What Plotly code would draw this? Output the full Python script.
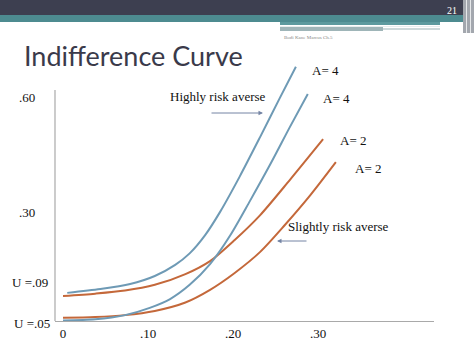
import plotly.graph_objects as go

# ---- Data (x = sigma, y = expected return) ----
sigma_a4_u09 = [0.005, 0.044, 0.079, 0.108, 0.132, 0.149, 0.167, 0.185, 0.208, 0.232, 0.255, 0.274]
er_a4_u09    = [0.089, 0.099, 0.112, 0.133, 0.162, 0.192, 0.239, 0.301, 0.393, 0.496, 0.597, 0.679]

sigma_a4_u05 = [0.000, 0.038, 0.073, 0.102, 0.126, 0.149, 0.173, 0.197, 0.220, 0.244, 0.267, 0.288]
er_a4_u05    = [0.017, 0.020, 0.031, 0.050, 0.073, 0.110, 0.164, 0.240, 0.329, 0.425, 0.522, 0.608]

sigma_a2_u09 = [0.000, 0.038, 0.073, 0.108, 0.144, 0.173, 0.202, 0.232, 0.267, 0.306]
er_a2_u09    = [0.081, 0.087, 0.095, 0.110, 0.138, 0.172, 0.227, 0.292, 0.384, 0.490]

sigma_a2_u05 = [0.000, 0.038, 0.073, 0.108, 0.144, 0.173, 0.202, 0.232, 0.261, 0.291, 0.321]
er_a2_u05    = [0.024, 0.026, 0.031, 0.042, 0.064, 0.097, 0.141, 0.196, 0.266, 0.344, 0.430]

x_tick_vals = [0, 0.10, 0.20, 0.30]
x_tick_text = ["0", ".10", ".20", ".30"]
y_label_text = [".60", ".30", "U =.09", "U =.05"]
curve_labels = ["A= 4", "A= 4", "A= 2", "A= 2"]

# ---- Layout geometry ----
W, H = 474, 355
L, R, T, B = 55, 40, 60, 34
PW, PH = W - L - R, H - T - B

def px(x):
    return (x - L) / PW

def py(y):
    return (H - B - y) / PH

X0, XS = 63, 850.0      # pixel of sigma=0, pixels per unit
Y0, YS = 327, 383.33    # pixel of E=0, pixels per unit
x_range = [(L - X0) / XS, (W - R - X0) / XS]
y_range = [(Y0 - (H - B)) / YS, (Y0 - T) / YS]

BLUE = "#6e9ab5"
ORANGE = "#c4683a"
SERIF = "Liberation Serif, Times New Roman, serif"

fig = go.Figure()
for xs, ys, col in [
    (sigma_a2_u05, er_a2_u05, ORANGE),
    (sigma_a2_u09, er_a2_u09, ORANGE),
    (sigma_a4_u05, er_a4_u05, BLUE),
    (sigma_a4_u09, er_a4_u09, BLUE),
]:
    fig.add_trace(go.Scatter(
        x=xs, y=ys, mode="lines",
        line=dict(color=col, width=2, shape="spline", smoothing=0.8),
        hoverinfo="skip", showlegend=False,
    ))

shapes = []
def rect(x0, y0, x1, y1, color):
    shapes.append(dict(type="rect", xref="paper", yref="paper",
                       x0=px(x0), x1=px(x1), y0=py(y1), y1=py(y0),
                       fillcolor=color, line=dict(width=0), layer="above"))

# header decoration
rect(0, 0, 474, 15, "#3d3f50")
rect(0, 15, 463, 22, "#4d8b90")
rect(280, 22, 440, 25, "#5d9a9e")
rect(280, 26, 440, 27, "#e8eeee")
rect(280, 27, 383, 31, "#9fb5b8")
rect(383, 28, 440, 30, "#cdd9da")
rect(463, 0, 474, 33, "#a3a7ae")
rect(466, 0, 467, 33, "#e6e8ea")
rect(470, 0, 471, 33, "#e6e8ea")

# y axis line
shapes.append(dict(type="line", xref="paper", yref="paper",
                   x0=0, x1=0, y0=0, y1=py(90),
                   line=dict(color="#a9a9a9", width=1.2)))

annotations = []
def text(s, x, y, size=13, color="#111111", family=SERIF, xanchor="center", **kw):
    annotations.append(dict(text=s, x=px(x), y=py(y), xref="paper", yref="paper",
                            xanchor=xanchor, yanchor="middle", showarrow=False,
                            font=dict(size=size, color=color, family=family), **kw))

text("Indifference Curve", 22, 55, size=27, color="#3a3a4a",
     family="Lato, Noto Sans, sans-serif", xanchor="left")
text("21", 452, 11, size=10, color="#ffffff", family="Liberation Serif, serif",
     xanchor="center")
text("Bodi Kane Marcus Ch.5", 282, 38, size=5, color="#8a8a8a", xanchor="left")

text("Highly risk averse", 218, 96)
text("Slightly risk averse", 338, 226)

for s, (x, y) in zip(curve_labels, [(325, 70), (336, 98), (353, 140), (368, 168)]):
    text(s, x, y)

for s, (xr, y) in zip(y_label_text, [(37, 97), (37, 212), (50, 282), (52, 323)]):
    text(s, xr, y, xanchor="right")

# arrows
for (hx, hy, ax) in [(263, 113, -53), (277, 241, 31)]:
    annotations.append(dict(x=px(hx), y=py(hy), xref="paper", yref="paper",
                            ax=ax, ay=0, text="", showarrow=True,
                            arrowhead=2, arrowsize=0.9, arrowwidth=1,
                            arrowcolor="#7484a4"))

fig.update_layout(
    width=W, height=H,
    margin=dict(l=L, r=R, t=T, b=B),
    paper_bgcolor="white", plot_bgcolor="white",
    shapes=shapes, annotations=annotations,
    xaxis=dict(range=x_range, showgrid=False, zeroline=False,
               showline=True, linecolor="#a9a9a9", linewidth=1.2,
               tickvals=x_tick_vals, ticktext=x_tick_text, ticks="",
               tickfont=dict(family=SERIF, size=13, color="#111111")),
    yaxis=dict(range=y_range, showgrid=False, zeroline=False,
               showline=False, showticklabels=False, ticks=""),
)

fig.write_html("out.html",
               config={"displayModeBar": False, "staticPlot": True},
               post_script="document.body.style.margin='0';document.body.style.overflow='hidden';")
